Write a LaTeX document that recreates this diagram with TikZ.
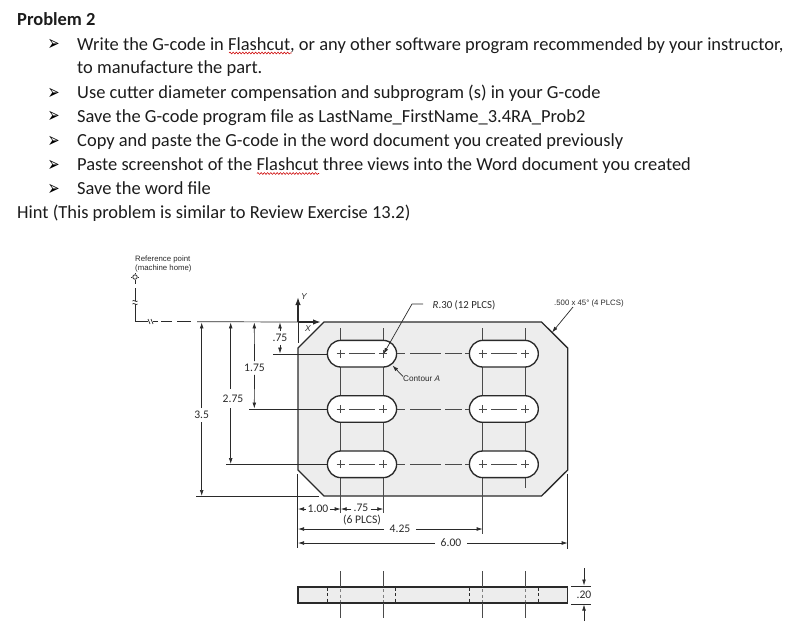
\documentclass[tikz,border=0pt]{standalone}
\usepackage{graphicx}
\usepackage{fontspec}
\setmainfont{Carlito}
\newfontfamily\dejavu{DejaVu Sans}
\newfontfamily\helv{Liberation Sans}
\usetikzlibrary{arrows.meta,decorations.pathmorphing}
\definecolor{ink}{HTML}{2A2A2A}
\definecolor{txt}{HTML}{1C1C1C}
\definecolor{plate}{HTML}{EDEDED}
\tikzset{
 para/.style={anchor=base west,inner sep=0pt,text=txt,font=\fontsize{18.45}{18.45}\selectfont},
 bul/.style={anchor=base west,inner sep=0pt,text=black,font=\dejavu\fontsize{20}{20}\selectfont},
 dimtxt/.style={inner xsep=1.5pt,inner ysep=3pt,text=ink,font=\fontsize{11.6}{11.6}\selectfont},
 widedim/.style={dimtxt,inner xsep=5.5pt},
 smalltxt/.style={inner sep=0pt,text=ink,font=\helv\fontsize{7.8}{8}\selectfont},
 part/.style={draw=ink,line width=1.35pt,line join=miter},
 thin line/.style={draw=ink,line width=0.7pt},
 center line/.style={draw=ink!85,line width=0.7pt},
 dimline/.style={draw=ink,line width=0.7pt},
 dimarrow/.style={dimline,-{Latex[length=6pt,width=3.8pt]}},
 squig/.style={draw=red!80!black,line width=0.55pt,decorate,decoration={snake,amplitude=0.9pt,segment length=3.2pt}},
}
\begin{document}
\begin{tikzpicture}[x=1pt,y=-1pt]
\useasboundingbox (0,0) rectangle (802,633);
% --- text block
\node[para,font=\bfseries\fontsize{18.45}{18.45}\selectfont] (title) at (17,25.5) {Problem 2};
\foreach \yy in {50.5,99,122.7,147,171,195} \node[bul] at (47.5,\yy) {\scalebox{0.72}[1.05]{➢}};
\node[para] (l1) at (77,50) {Write the G-code in Flashcut, or any other software program recommended by your instructor,};
\node[para] (l2) at (77,73.5) {to manufacture the part.};
\node[para] (l3) at (77,98.5) {Use cutter diameter compensation and subprogram (s) in your G-code};
\node[para] (l4) at (77,122.2) {Save the G-code program file as LastName\_FirstName\_3.4RA\_Prob2};
\node[para] (l5) at (77,146.5) {Copy and paste the G-code in the word document you created previously};
\node[para] (l6) at (77,170.5) {Paste screenshot of the Flashcut three views into the Word document you created};
\node[para] (l7) at (77,194.5) {Save the word file};
\node[para] (hint) at (17,218.5) {Hint (This problem is similar to Review Exercise 13.2)};
\draw[squig] (229,53) -- (291.5,53);
\draw[squig] (257,173.5) -- (319,173.5);
% --- plate
\path[fill=plate,part] (324,322) -- (541.5,322) -- (567.7,348) -- (567.7,470) -- (541.5,496) -- (324,496) -- (298,470) -- (298,348) -- cycle;
% vertical centre lines
\foreach \xx/\yb in {340.7/513,383.3/513,482.7/534,525/488}{
  \draw[center line] (\xx,328) -- (\xx,340.4);
  \draw[center line] (\xx,367) -- (\xx,395.7);
  \draw[center line] (\xx,422.3) -- (\xx,451);
  \draw[center line] (\xx,477.6) -- (\xx,\yb);
}
% slots
\foreach \yy in {353.7,409,464.3}{
 \foreach \xa/\xb in {340.7/383.3,482.7/525}{
  \path[fill=white,part] (\xa,\yy-13.3) -- (\xb,\yy-13.3) arc[start angle=90,end angle=-90,radius=13.3pt] -- (\xa,\yy+13.3) arc[start angle=270,end angle=90,radius=13.3pt] -- cycle;
  \draw[center line] (\xa-4,\yy) -- (\xa+4,\yy) (\xa,\yy-4) -- (\xa,\yy+4);
  \draw[center line] (\xb-4,\yy) -- (\xb+4,\yy) (\xb,\yy-4) -- (\xb,\yy+4);
  \draw[center line] (\xa+8.5,\yy) -- (\xb-8.5,\yy);
 }
 \draw[center line] (397,\yy) -- (405,\yy) (410,\yy) -- (441,\yy) (445,\yy) -- (462,\yy) (465,\yy) -- (469.3,\yy);
}
% --- datum and axes
\node[smalltxt,anchor=base west] (ref1) at (135,261.3) {Reference point};
\node[smalltxt,anchor=base west] (ref2) at (135,270.3) {(machine home)};
\node[circle,draw=ink,line width=0.8pt,minimum size=4.5pt,inner sep=0pt] (home) at (135,277) {};
\draw[thin line] (131,277) -- (home.west) (home.east) -- (139,277) (135,273) -- (home.north);
\coordinate (corner) at (135,321.7);
\coordinate (datumA) at (197,321.7);
\coordinate (origin) at (298,322);
\draw[thin line] (home.south) -- (135,284) (135,288) -- (135,296) (135,308) -- (corner) -- (148,321.7);
\draw[thin line] (132.5,301) .. controls (134,299) and (136,303) .. (137.5,301) (132.5,304) .. controls (134,302) and (136,306) .. (137.5,304);
\draw[thin line] (135,304) -- (135,308) (135,296) -- (135,301);
\draw[thin line] (148,319) .. controls (150,320) and (148,323) .. (150,324) (151,319) .. controls (153,320) and (151,323) .. (153,324);
\draw[thin line] (153,321.7) -- (158,321.7) (161,321.7) -- (172,321.7) (177,321.7) -- (191,321.7);
\draw[thin line] (datumA) -- (origin);
\draw[part,line width=1.5pt,-{Latex[length=8pt,width=5.5pt]}] (origin) -- (298,297);
\draw[part,line width=1.5pt,-{Latex[length=8pt,width=5.5pt]}] (origin) -- (321,322);
\node[smalltxt,font=\helv\itshape\fontsize{8.5}{8.5}\selectfont] (ylab) at (304,297) {Y};
\node[smalltxt,font=\helv\itshape\fontsize{8.5}{8.5}\selectfont] (xlab) at (308,329) {X};
\draw[thin line] (origin) -- (298,343);
% --- extension lines
\draw[thin line] (273,354) -- (327,354);
\draw[thin line] (249,409) -- (327,409);
\draw[thin line] (226,464.3) -- (327,464.3);
\draw[thin line] (196,496.5) -- (319,496.5);
\draw[thin line] (297.5,474) -- (297.5,548);
\draw[thin line] (567.7,474) -- (567.7,549);
% --- vertical dimensions
\node[dimtxt] (d35) at (201.7,415) {3.5};
\node[dimtxt] (d275) at (233,399) {2.75};
\node[dimtxt] (d175) at (254.5,368) {1.75};
\node[dimtxt] (d75) at (280,338) {.75};
\draw[dimarrow] (d35) -- (201.7,322.4);
\draw[dimarrow] (d35) -- (201.7,496);
\draw[dimarrow] (230.7,389) -- (230.7,322.4);
\draw[dimarrow] (230.7,408) -- (230.7,464);
\draw[dimarrow] (d175) -- (254.3,322.4);
\draw[dimarrow] (d175) -- (254.3,408.5);
\draw[dimarrow] (d75) -- (280,322.4);
\draw[dimarrow] (d75) -- (280,353.6);
% --- horizontal dimensions
\node[dimtxt] (d100) at (318,509) {1.00};
\node[dimtxt,inner sep=0pt] (d75b) at (361,508) {.75};
\node[dimtxt,inner sep=0pt] (plcs) at (362,520) {(6 PLCS)};
\node[widedim] (d425) at (400,529) {4.25};
\node[widedim] (d600) at (451,543) {6.00};
\draw[dimarrow] (d100) -- (298,509);
\draw[dimarrow] (d100) -- (340.7,509);
\draw[dimarrow,shorten <=2pt] (d75b.west |- 0,509) -- (340.7,509);
\draw[dimarrow,shorten <=2pt] (d75b.east |- 0,509) -- (383.3,509);
\draw[dimarrow] (d425) -- (298,529);
\draw[dimarrow] (d425) -- (482.7,529);
\draw[dimarrow] (d600) -- (298,543);
\draw[dimarrow] (d600) -- (567.7,543);
% --- callouts
\node[dimtxt,inner sep=0pt,anchor=base west,font=\fontsize{10.8}{10.8}\selectfont] (r30) at (432.5,308.5) {\textit{R}.30 (12 PLCS)};
\node[smalltxt,anchor=base west] (cham) at (554,305.5) {.500 x 45° (4 PLCS)};
\node[smalltxt,anchor=base west,font=\helv\fontsize{8.2}{8.2}\selectfont] (cont) at (403,381.5) {Contour \textit{A}};
\draw[dimarrow] (423,304) -- (412,304) -- (383.5,354);
\draw[dimarrow] (573,307) -- (552,332.5);
\draw[dimarrow] (403,376.5) -- (392.5,365.5);
% --- side view
\path[fill=plate,part] (298,587) rectangle (567.7,603);
\foreach \xx in {340.7,383.3,482.7,525}{
  \draw[center line] (\xx,571) -- (\xx,587);
  \draw[center line] (\xx,603) -- (\xx,618);
  \draw[center line,draw=ink!60,dash pattern=on 3pt off 2.5pt] (\xx,589) -- (\xx,602);
}
\foreach \xx in {327.3,395.7,469.7,538}
  \draw[thin line,line width=0.9pt,dash pattern=on 3pt off 2.5pt] (\xx,587.5) -- (\xx,603);
\draw[thin line] (571,586) -- (590.7,586) (571,604) -- (590.7,604);
\node[dimtxt] (d20) at (584,594.5) {.20};
\coordinate (d20t) at (584,568);
\coordinate (d20b) at (584,621);
\draw[dimarrow] (d20t) -- (584,585.5);
\draw[dimarrow] (d20b) -- (584,604.5);
\end{tikzpicture}
\end{document}
